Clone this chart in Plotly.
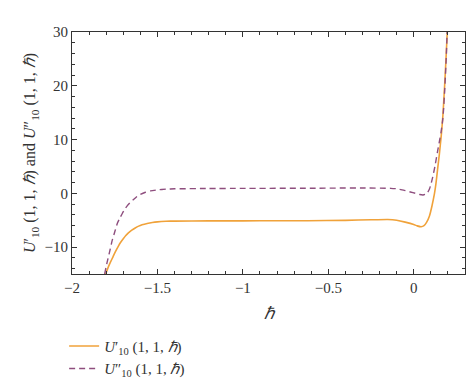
import plotly.graph_objects as go

# U'_10(1,1,hbar)
x1 = [-1.803, -1.79, -1.775, -1.76, -1.745, -1.73, -1.715, -1.70, -1.685, -1.67, -1.65,
      -1.63, -1.61, -1.59, -1.56, -1.53, -1.50, -1.45, -1.4, -1.2, -1.0, -0.8, -0.62,
      -0.4, -0.25, -0.152, -0.1, -0.05, 0.0, 0.02, 0.043, 0.06, 0.075, 0.092, 0.107,
      0.121, 0.13, 0.14, 0.15, 0.16, 0.165, 0.17, 0.175, 0.18, 0.185, 0.19, 0.195, 0.198]
y1 = [-15.0, -13.9, -12.8, -11.8, -10.8, -9.9, -9.1, -8.45, -7.85, -7.35, -6.85,
      -6.45, -6.1, -5.85, -5.6, -5.42, -5.3, -5.2, -5.16, -5.13, -5.12, -5.1, -5.1,
      -5.02, -4.92, -4.87, -5.0, -5.35, -5.8, -6.05, -6.2, -6.0, -5.4, -4.2, -2.3,
      -0.1, 1.8, 4.6, 7.3, 10.4, 12.2, 14.2, 16.8, 19.6, 22.6, 25.8, 29.2, 31.0]

# U''_10(1,1,hbar)
x2 = [-1.809, -1.795, -1.78, -1.765, -1.75, -1.735, -1.72, -1.705, -1.69, -1.675, -1.66,
      -1.64, -1.62, -1.60, -1.57, -1.54, -1.50, -1.45, -1.4, -1.2, -1.0, -0.6, -0.3,
      -0.134, -0.1, -0.06, -0.02, 0.01, 0.035, 0.055, 0.07, 0.082, 0.092, 0.1, 0.111,
      0.125, 0.14, 0.15, 0.16, 0.17, 0.175, 0.18, 0.185, 0.19, 0.195, 0.197]
y2 = [-15.0, -12.9, -10.9, -8.8, -7.2, -5.6, -4.6, -3.7, -2.9, -2.25, -1.7,
      -1.15, -0.6, -0.2, 0.2, 0.45, 0.65, 0.78, 0.84, 0.9, 0.92, 0.95, 1.0,
      0.93, 0.85, 0.6, 0.25, 0.0, -0.22, -0.3, -0.15, 0.2, 0.8, 1.6, 3.0,
      5.2, 7.9, 9.6, 11.4, 13.8, 15.8, 18.5, 21.6, 25.0, 29.5, 31.0]

name1 = "<i>U</i>′<sub>10</sub> (1, 1, <i>ℏ</i>)"
name2 = "<i>U</i>″<sub>10</sub> (1, 1, <i>ℏ</i>)"

xticks = [-2, -1.5, -1, -0.5, 0]
yticks = [-10, 0, 10, 20, 30]

font_family = "Liberation Serif"
tc = "#333333"

fig = go.Figure()
fig.add_trace(go.Scatter(x=x1, y=y1, mode="lines", name=name1,
                         line=dict(color="#F0A23A", width=1.6, shape="spline", smoothing=0.4)))
fig.add_trace(go.Scatter(x=x2, y=y2, mode="lines", name=name2,
                         line=dict(color="#8E4E7E", width=1.4, dash="6px,4px", shape="spline", smoothing=0.4)))

axis_common = dict(showgrid=False, zeroline=False, showline=True, linecolor=tc,
                   linewidth=1, mirror="ticks", ticks="inside", ticklen=5, tickcolor=tc,
                   tickfont=dict(size=15, color=tc, family=font_family))

fig.update_xaxes(range=[-2, 0.3], tickvals=xticks,
                 ticktext=["−2", "−1.5", "−1", "−0.5", "0"],
                 minor=dict(dtick=0.1, ticks="inside", ticklen=3, tickcolor=tc),
                 title=dict(text="<i>ℏ</i>", font=dict(size=17, color=tc, family=font_family), standoff=12),
                 **axis_common)
fig.update_yaxes(range=[-15, 30], tickvals=yticks,
                 minor=dict(dtick=2, ticks="inside", ticklen=3, tickcolor=tc),
                 title=dict(text=name1 + " and " + name2,
                            font=dict(size=16, color=tc, family=font_family), standoff=4),
                 **axis_common)

fig.update_layout(
    width=474, height=388,
    margin=dict(l=64, r=17, t=24, b=121),
    paper_bgcolor="white", plot_bgcolor="white",
    font=dict(family=font_family, color=tc),
    showlegend=True,
    legend=dict(x=-0.02, y=-0.225, xanchor="left", yanchor="top", orientation="v",
                font=dict(size=15, color=tc, family=font_family),
                bgcolor="rgba(0,0,0,0)", tracegroupgap=0, itemwidth=30),
)

fig.write_html("out.html")
